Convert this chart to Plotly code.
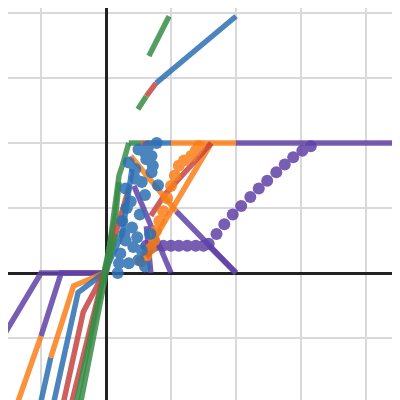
import plotly.graph_objects as go

RED, BLUE, GREEN, PURPLE, ORANGE, BLACK = "#c74440", "#2d70b3", "#388c46", "#6042a6", "#fa7e19", "#000000"

# segments: (color, xs, ys)
segments = [
    (GREEN, [0.66, 0.97], [3.34, 3.95]),
    (GREEN, [0.49, 0.62], [2.52, 2.72]),
    (RED, [0.62, 0.77], [2.72, 2.92]),
    (BLUE, [0.77, 2.0], [2.92, 3.95]),
    (GREEN, [0.35, 0.54], [2.0, 2.0]),
    (RED, [0.54, 0.69], [2.0, 2.0]),
    (BLUE, [0.69, 1.0], [2.0, 2.0]),
    (ORANGE, [1.0, 2.0], [2.0, 2.0]),
    (PURPLE, [2.0, 4.8], [2.0, 2.0]),
    (ORANGE, [0.54, 1.62], [0.18, 2.0]),
    (RED, [0.69, 0.9, 1.62], [0.88, 1.2, 2.0]),
    (ORANGE, [0.38, 1.08], [1.8, 0.95]),
    (PURPLE, [1.08, 2.0], [0.95, 0.0]),
    (PURPLE, [0.43, 1.0], [1.34, 0.0]),
    (PURPLE, [0.62, 0.69], [0.72, 0.0]),
    (PURPLE, [1.58, 2.0], [0.42, 0.0]),
    (GREEN, [0.0, 0.2, 0.25, 0.35], [0.0, 1.5, 1.65, 2.0]),
    (GREEN, [-0.03, 0.15, 0.2], [0.0, 0.9, 1.4]),
    (RED, [-0.03, 0.2, 0.35], [0.0, 0.8, 1.3]),
    (BLUE, [-0.03, 0.25, 0.4], [0.0, 0.6, 1.6]),
    (BLACK, [0.62, 0.77], [0.25, 0.42]),
    # left fan
    (PURPLE, [-1.6, -1.0, -0.03], [-1.0, 0.0, 0.0]),
    (ORANGE, [-1.45, -1.0], [-2.25, -0.97]),
    (PURPLE, [-1.0, -0.69, -0.03], [-0.97, 0.0, 0.0]),
    (BLUE, [-1.05, -0.85], [-2.2, -1.3]),
    (ORANGE, [-0.85, -0.5, -0.03], [-1.3, -0.2, 0.0]),
    (BLUE, [-0.85, -0.43, -0.03], [-2.2, -0.3, 0.0]),
    (RED, [-0.7, -0.35, -0.03], [-2.2, -0.6, 0.0]),
    (RED, [-0.58, -0.03], [-2.2, 0.0]),
    (GREEN, [-0.5, -0.03, 0.1], [-2.2, 0.0, 0.5]),
    (GREEN, [-0.43, 0.0, 0.15], [-2.2, 0.0, 0.6]),
]

purple_dots_x = [0.62, 0.75, 0.88, 1.0, 1.12, 1.25, 1.38, 1.5, 1.58, 1.7, 1.82, 1.95, 2.08, 2.22, 2.35, 2.48, 2.62, 2.75, 2.88, 3.02, 3.15]
purple_dots_y = [0.42, 0.42, 0.42, 0.42, 0.42, 0.42, 0.42, 0.42, 0.45, 0.6, 0.75, 0.9, 1.03, 1.17, 1.3, 1.42, 1.55, 1.67, 1.78, 1.88, 1.95]
orange_dots_x = [0.54, 0.62, 0.69, 0.74, 0.77, 0.82, 0.88, 0.94, 1.0, 1.06, 1.12, 1.2, 1.31, 1.38, 1.43]
orange_dots_y = [0.18, 0.27, 0.38, 0.5, 0.65, 0.8, 0.95, 1.15, 1.34, 1.5, 1.65, 1.73, 1.8, 1.88, 1.95]
blue_dots_x = [0.18, 0.22, 0.3, 0.35, 0.42, 0.5, 0.25, 0.32, 0.4, 0.48, 0.55, 0.6, 0.3, 0.38, 0.45, 0.52, 0.6, 0.68, 0.35, 0.45, 0.55, 0.62, 0.7, 0.5, 0.6, 0.7, 0.78, 0.65, 0.72, 0.8, 0.2, 0.28]
blue_dots_y = [0.0, 0.3, 0.5, 0.15, 0.4, 0.2, 0.8, 1.0, 0.7, 0.55, 0.35, 0.1, 1.3, 1.1, 1.45, 0.9, 1.2, 0.6, 1.7, 1.6, 1.4, 1.75, 1.55, 1.9, 1.85, 1.8, 2.0, 1.95, 1.65, 1.35, 0.15, 0.6]

fig = go.Figure()
for c, xs, ys in segments:
    fig.add_trace(go.Scatter(x=xs, y=ys, mode="lines", line=dict(color=c, width=5.5), opacity=0.85, hoverinfo="skip"))
for c, xs, ys in [(PURPLE, purple_dots_x, purple_dots_y), (ORANGE, orange_dots_x, orange_dots_y), (BLUE, blue_dots_x, blue_dots_y)]:
    fig.add_trace(go.Scatter(x=xs, y=ys, mode="markers", marker=dict(color=c, size=12), opacity=0.85, hoverinfo="skip"))

ax = dict(showticklabels=False, gridcolor="#d9d9d9", gridwidth=1.5, dtick=1, zeroline=True,
          zerolinecolor="#222222", zerolinewidth=3, showline=False, ticks="")
fig.update_layout(width=400, height=400, margin=dict(l=0, r=0, t=0, b=0), showlegend=False,
                  plot_bgcolor="white", paper_bgcolor="white",
                  xaxis=dict(range=[-1.508, 4.646], **ax), yaxis=dict(range=[-2.077, 4.077], **ax))
fig.write_html("out.html")
